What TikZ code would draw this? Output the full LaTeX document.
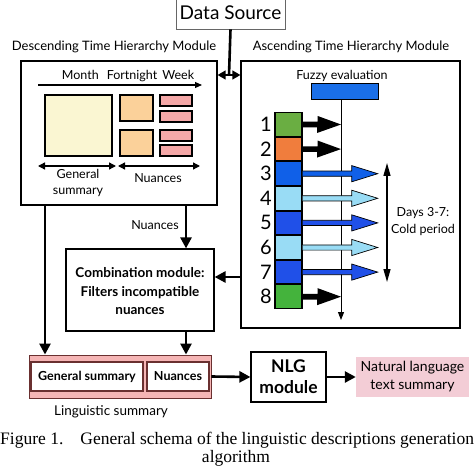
\documentclass[tikz,border=0pt]{standalone}
\usepackage{fontspec}
\setmainfont{Lato}
\newfontfamily\capfont{Liberation Serif}
\usetikzlibrary{arrows.meta,calc}
\definecolor{cream}{HTML}{FAF6D2}
\definecolor{peach}{HTML}{FBD19A}
\definecolor{rose}{HTML}{F5A8A8}
\definecolor{cgreen}{HTML}{6AAE42}
\definecolor{corange}{HTML}{F07D3D}
\definecolor{cblue}{HTML}{1060E8}
\definecolor{clight}{HTML}{99DCF5}
\definecolor{cblueb}{HTML}{2050E8}
\definecolor{cgreenb}{HTML}{44B33C}
\definecolor{barblue}{HTML}{1A6FE8}
\definecolor{lspink}{HTML}{F5B5B5}
\definecolor{lsborder}{HTML}{6A3030}
\definecolor{natpink}{HTML}{F3CDD6}
\begin{document}
\begin{tikzpicture}[x=1pt,y=-1pt,
  box/.style={draw, line width=1.3pt, inner sep=0pt},
  rbox/.style={draw, line width=1.2pt, inner sep=0pt},
  txt/.style={inner sep=0pt, font=\fontsize{12.5}{15}\selectfont},
  bigarr/.style={line width=2.6pt, -{Triangle[length=11pt,width=11pt]}},
  thinarr/.style={line width=1.1pt, -{Triangle[length=7pt,width=6pt]}},
  dblarr/.style={line width=1.3pt, {Triangle[length=7pt,width=7pt]}-{Triangle[length=7pt,width=7pt]}},
  sq/.style={draw, line width=1.4pt, minimum width=27pt, minimum height=24pt, inner sep=0pt},
]
\useasboundingbox (0,0) rectangle (474,468);

% Data source
\node[draw=gray!80!black, line width=0.8pt, minimum width=109pt, minimum height=32pt, inner sep=0pt,
  font=\fontsize{19}{22}\selectfont] (ds) at (230.5,13) {Data Source};

% module titles
\node[txt, font=\fontsize{13}{15}\selectfont] (dtl) at (114,47) {Descending Time Hierarchy Module};
\node[txt, font=\fontsize{13}{15}\selectfont] (atl) at (351,47) {Ascending Time Hierarchy Module};

% boxes
\node[box, minimum width=196pt, minimum height=144pt] (L) at (119,133) {};
\node[box, minimum width=219pt, minimum height=267pt] (R) at (350.5,194.5) {};

\coordinate (da) at (229,75);
\draw[line width=2.6pt] (ds.south) -- (da);
\draw[line width=1.6pt, {Triangle[length=8pt,width=9pt]}-{Triangle[length=8pt,width=9pt]}] (L.east |- da) -- (R.west |- da);

% inside left box
\node[txt] (mfw) at (128,76) {Month\hspace{8pt}Fortnight\hspace{5pt}Week};
\coordinate (ta) at (38,85);
\coordinate (tb) at (202,85);
\draw[thinarr] (ta) -- (tb);

\node[draw, line width=1.4pt, fill=cream, minimum width=67pt, minimum height=61pt, inner sep=0pt] (gy) at (78.5,125.5) {};
\node[draw, line width=1.4pt, fill=peach, minimum width=33pt, minimum height=26pt, inner sep=0pt] (o1) at (136.5,108) {};
\node[draw, line width=1.4pt, fill=peach, minimum width=33pt, minimum height=26pt, inner sep=0pt] (o2) at (136.5,143) {};
\foreach \y [count=\k] in {100.5,116.5,135.5,150.5}
  \node[draw, line width=1.4pt, fill=rose, minimum width=32pt, minimum height=11pt, inner sep=0pt] (p\k) at (176,\y) {};

\coordinate (g1) at (38,166);
\coordinate (g2) at (116,166);
\coordinate (n1) at (118,166);
\coordinate (n2) at (200,166);
\draw[dblarr] (g1) -- (g2);
\draw[dblarr] (n1) -- (n2);
\node[txt, align=center, font=\fontsize{12.5}{16}\selectfont] (gsl) at (78,183) {General\\summary};
\node[txt] (nul) at (158,178) {Nuances};

% inside right box
\node[txt] (fz) at (342,76) {Fuzzy evaluation};
\node[draw, line width=1pt, fill=barblue, minimum width=67pt, minimum height=16pt, inner sep=0pt] (bar) at (344.5,92) {};
\coordinate (vend) at (341,320);
\draw[line width=1pt, -{Triangle[length=8pt,width=6pt]}] (bar.south -| vend) -- (vend);

\foreach \c [count=\i] in {cgreen,corange,cblue,clight,cblueb,clight,cblueb,cgreenb}{
  \pgfmathsetmacro{\yc}{124.5+(\i-1)*24.6}
  \node[sq, fill=\c] (s\i) at (288.5,\yc) {};
  \node[inner sep=0pt, font=\fontsize{20}{22}\selectfont] (num\i) at (266,\yc) {\i};
}
\foreach \i in {1,2,8}{
  \coordinate (e\i) at (s\i.east -| vend);
  \fill[black] ($(s\i.east)+(0,-2.8)$) -- ++(15,0) -- ++(0,-5.7) -- (e\i) -- ++(-24,8.5) -- ++(0,-5.7) -- ($(s\i.east)+(0,2.8)$) -- cycle;
}
\foreach \i/\c in {3/cblue,4/clight,5/cblueb,6/clight,7/cblueb}{
  \draw[fill=\c, line width=0.7pt, line join=miter]
    ($(s\i.east)+(0,-2.6)$) -- ++(49,0) -- ++(0,-5.5) -- ++(26,8.1) -- ++(-26,8.1) -- ++(0,-5.5) -- ($(s\i.east)+(0,2.6)$);
}
\coordinate (c1) at (387,163);
\coordinate (c2) at (387,282);
\draw[line width=1.3pt, {Triangle[length=13pt,width=7pt]}-{Triangle[length=13pt,width=7pt]}] (c1) -- (c2);
\node[txt, align=center, font=\fontsize{12.5}{17}\selectfont] (days) at (423,221.5) {Days 3-7:\\Cold period};

% lower part
\node[rbox, minimum width=148pt, minimum height=82pt] (comb) at (140,290) {};
\node[txt, align=center, font=\fontsize{13.5}{18.5}\selectfont\bfseries] (combt) at (140,291.5) {Combination module:\\Filters incompatible\\nuances};

\coordinate (nx) at (186,0);
\coordinate (gx) at (45,0);
\coordinate (cy) at (0,277);

\draw[bigarr] (L.south -| nx) -- (comb.north -| nx);
\node[txt] (nul2) at (155,225) {Nuances};
\draw[bigarr] (R.west |- cy) -- (comb.east |- cy);

\node[draw=lsborder, line width=0.9pt, fill=lspink, minimum width=182pt, minimum height=43pt, inner sep=0pt] (ls) at (120,376.5) {};
\node[draw=lsborder, line width=1.2pt, fill=white, minimum width=112pt, minimum height=29pt, inner sep=0pt,
  font=\fontsize{12.5}{15}\selectfont\bfseries] (lsg) at (87,376.5) {General summary};
\node[draw=lsborder, line width=1.2pt, fill=white, minimum width=62pt, minimum height=29pt, inner sep=0pt,
  font=\fontsize{12.5}{15}\selectfont\bfseries] (lsn) at (178,376.5) {Nuances};
\node[txt, font=\fontsize{13.5}{16}\selectfont] (lsl) at (111,412) {Linguistic summary};

\draw[bigarr] (L.south -| gx) -- (ls.north -| gx);
\draw[bigarr] (comb.south -| nx) -- (ls.north -| nx);

\node[rbox, minimum width=75pt, minimum height=50pt, align=center,
  font=\fontsize{17.5}{21}\selectfont\bfseries] (nlg) at (288.5,377) {NLG\\module};
\draw[bigarr] (ls.east) -- (nlg.west);
\node[fill=natpink, minimum width=113pt, minimum height=40pt, inner sep=0pt, align=center,
  font=\fontsize{14}{18}\selectfont] (nat) at (412.5,377) {Natural language\\text summary};
\draw[bigarr] (nlg.east) -- (nat.west);

% caption
\node[anchor=west, inner sep=0pt, font=\capfont\fontsize{17.5}{20}\selectfont] (cap1) at (0,440) {Figure 1.\hspace{17pt}General schema of the linguistic descriptions generation};
\node[inner sep=0pt, font=\capfont\fontsize{17.5}{20}\selectfont] (cap2) at (236,458) {algorithm};
\end{tikzpicture}
\end{document}
